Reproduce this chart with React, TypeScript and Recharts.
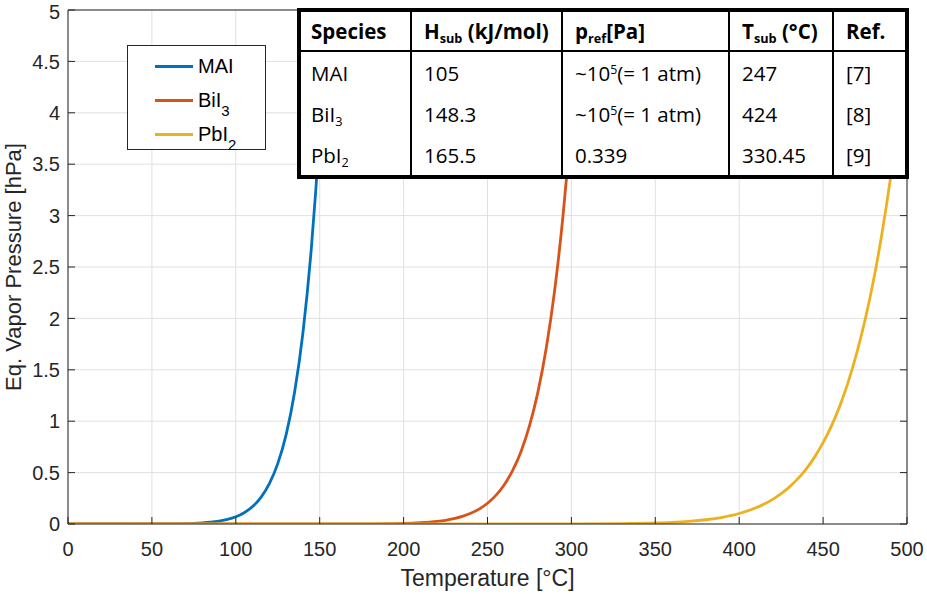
import React from 'react';
import { LineChart, Line, XAxis, YAxis, CartesianGrid } from 'recharts';

// axis ticks
const xTicks = [0, 50, 100, 150, 200, 250, 300, 350, 400, 450, 500];
const yTicks = [0, 0.5, 1, 1.5, 2, 2.5, 3, 3.5, 4, 4.5, 5];

// MAI: temperature [°C] vs eq. vapor pressure [hPa]
const maiTemp = [0, 25, 50, 60, 70, 75, 80, 85, 90, 95, 100, 105, 110, 115, 120, 125, 130, 135, 140, 145, 150, 155];
const maiPressure = [0, 0.00001, 0.0004, 0.0012, 0.0036, 0.0062, 0.0103, 0.017, 0.028, 0.044, 0.07, 0.11, 0.17, 0.259, 0.392, 0.587, 0.87, 1.28, 1.86, 2.68, 3.83, 5.43];

// BiI3
const biTemp = [0, 100, 150, 175, 200, 210, 220, 225, 230, 235, 240, 245, 250, 255, 260, 265, 270, 275, 280, 285, 290, 295, 300, 305];
const biPressure = [0, 0, 0.00006, 0.0007, 0.0055, 0.012, 0.025, 0.036, 0.052, 0.074, 0.104, 0.145, 0.202, 0.278, 0.382, 0.521, 0.706, 0.954, 1.28, 1.71, 2.27, 3.0, 3.94, 5.16];

// PbI2
const pbTemp = [0, 100, 200, 250, 300, 330, 350, 360, 370, 380, 390, 400, 410, 420, 425, 430, 435, 440, 445, 450, 455, 460, 465, 470, 475, 480, 485, 490, 495, 500];
const pbPressure = [0, 0, 0, 0.00002, 0.0006, 0.0033, 0.0095, 0.0158, 0.0258, 0.0414, 0.0655, 0.102, 0.158, 0.24, 0.295, 0.361, 0.441, 0.537, 0.653, 0.791, 0.955, 1.15, 1.382, 1.659, 1.984, 2.366, 2.818, 3.348, 3.968, 4.69];

const seriesNames = ['MAI', 'BiI', 'PbI'];
const seriesSubs = ['', '3', '2'];
const seriesColors = ['#0072BD', '#D95319', '#EDB120'];

// table contents
const tableSpecies = ['MAI', 'BiI', 'PbI'];
const tableSpeciesSub = ['', '3', '2'];
const tableHsub = ['105', '148.3', '165.5'];
const tablePrefBase = ['~10', '~10', '0.339'];
const tablePrefExp = ['5', '5', ''];
const tablePrefTail = ['(= 1 atm)', '(= 1 atm)', ''];
const tableTsub = ['247', '424', '330.45'];
const tableRefs = ['[7]', '[8]', '[9]'];

const toPoints = (temps: number[], ps: number[]) => temps.map((t, i) => ({ t, p: ps[i] }));
const seriesData = [toPoints(maiTemp, maiPressure), toPoints(biTemp, biPressure), toPoints(pbTemp, pbPressure)];

const AXIS = '#262626';
const FONT = '"Liberation Sans", Arial, sans-serif';
const TABLE_FONT = '"Open Sans", "Noto Sans", sans-serif';

const colWidths = [109, 151, 167, 104, 73];
const rowHeights = [40, 41, 41, 41];

const NoTick = () => <g />;

function Sub({ children }: { children: React.ReactNode }) {
  return <span style={{ fontSize: '0.62em', verticalAlign: '-0.35em', lineHeight: 0 }}>{children}</span>;
}

function Cell({ i, children, bold }: { i: number; children: React.ReactNode; bold?: boolean }) {
  return (
    <div
      style={{
        width: colWidths[i],
        boxSizing: 'border-box',
        borderLeft: i === 0 ? 'none' : '2px solid #000',
        paddingLeft: i === 0 ? 10 : 12,
        display: 'flex',
        alignItems: 'center',
        fontWeight: bold ? 700 : 400,
        whiteSpace: 'nowrap',
      }}
    >
      <span>{children}</span>
    </div>
  );
}

function InfoTable() {
  return (
    <div
      style={{
        position: 'absolute',
        left: 297,
        top: 8,
        width: 612,
        height: 171,
        boxSizing: 'border-box',
        border: '4px solid #000',
        background: '#fff',
        fontFamily: TABLE_FONT,
        fontSize: 20.5,
        color: '#000',
      }}
    >
      <div style={{ display: 'flex', height: rowHeights[0], borderBottom: '2px solid #000', boxSizing: 'border-box' }}>
        <Cell i={0} bold>Species</Cell>
        <Cell i={1} bold>H<Sub>sub</Sub> (kJ/mol)</Cell>
        <Cell i={2} bold>p<Sub>ref</Sub>[Pa]</Cell>
        <Cell i={3} bold>T<Sub>sub</Sub> (°C)</Cell>
        <Cell i={4} bold>Ref.</Cell>
      </div>
      {tableSpecies.map((s, r) => (
        <div key={s} style={{ display: 'flex', height: rowHeights[r + 1] }}>
          <Cell i={0}>
            {s}
            {tableSpeciesSub[r] && <Sub>{tableSpeciesSub[r]}</Sub>}
          </Cell>
          <Cell i={1}>{tableHsub[r]}</Cell>
          <Cell i={2}>
            {tablePrefBase[r]}
            {tablePrefExp[r] && (
              <span style={{ fontSize: '0.6em', verticalAlign: '0.6em', lineHeight: 0 }}>{tablePrefExp[r]}</span>
            )}
            {tablePrefTail[r]}
          </Cell>
          <Cell i={3}>{tableTsub[r]}</Cell>
          <Cell i={4}>{tableRefs[r]}</Cell>
        </div>
      ))}
    </div>
  );
}

function LegendBox() {
  return (
    <div
      style={{
        position: 'absolute',
        left: 127,
        top: 45,
        width: 139,
        height: 105,
        boxSizing: 'border-box',
        border: `1px solid ${AXIS}`,
        background: '#fff',
        fontFamily: FONT,
        fontSize: 20,
        color: '#000',
      }}
    >
      {seriesNames.map((name, i) => (
        <div
          key={name}
          style={{ position: 'absolute', left: 27, top: 5 + i * 34, height: 30, display: 'flex', alignItems: 'center' }}
        >
          <div style={{ width: 38, height: 3, background: seriesColors[i], marginRight: 5 }} />
          <span>
            {name}
            {seriesSubs[i] && (
              <span style={{ fontSize: 15, verticalAlign: -9, lineHeight: 0 }}>{seriesSubs[i]}</span>
            )}
          </span>
        </div>
      ))}
    </div>
  );
}

export default function App() {
  return (
    <div style={{ position: 'absolute', left: 0, top: 0, width: 927, height: 594, background: '#fff' }}>
      <LineChart width={927} height={594} margin={{ top: 9, right: 19, bottom: 0, left: 0 }}>
        <CartesianGrid stroke="#e0e0e0" strokeWidth={1} horizontalValues={yTicks} verticalValues={xTicks} />
        <XAxis
          type="number"
          dataKey="t"
          domain={[0, 500]}
          ticks={xTicks}
          allowDataOverflow
          height={70}
          tickSize={-7}
          tickMargin={25}
          stroke={AXIS}
          tick={{ fill: AXIS, fontSize: 20, fontFamily: FONT }}
          label={{
            value: 'Temperature [°C]',
            position: 'insideBottom',
            offset: 8,
            style: { fill: AXIS, fontSize: 23, fontFamily: FONT, textAnchor: 'middle' },
          }}
        />
        <XAxis
          xAxisId="top"
          orientation="top"
          type="number"
          domain={[0, 500]}
          ticks={xTicks}
          allowDataOverflow
          height={1}
          tickSize={-7}
          stroke={AXIS}
          tick={NoTick}
        />
        <YAxis
          type="number"
          domain={[0, 5]}
          ticks={yTicks}
          allowDataOverflow
          width={68}
          tickSize={-7}
          tickMargin={15}
          stroke={AXIS}
          tick={{ fill: AXIS, fontSize: 20, fontFamily: FONT }}
          label={{
            value: 'Eq. Vapor Pressure [hPa]',
            angle: -90,
            position: 'insideLeft',
            offset: 13,
            style: { fill: AXIS, fontSize: 22, fontFamily: FONT, textAnchor: 'middle' },
          }}
        />
        <YAxis
          yAxisId="right"
          orientation="right"
          type="number"
          domain={[0, 5]}
          ticks={yTicks}
          allowDataOverflow
          width={1}
          tickSize={-7}
          stroke={AXIS}
          tick={NoTick}
        />
        {seriesData.map((d, i) => (
          <Line
            key={seriesNames[i]}
            data={d}
            dataKey="p"
            type="monotone"
            stroke={seriesColors[i]}
            strokeWidth={2.8}
            dot={false}
            isAnimationActive={false}
          />
        ))}
      </LineChart>
      <LegendBox />
      <InfoTable />
    </div>
  );
}
